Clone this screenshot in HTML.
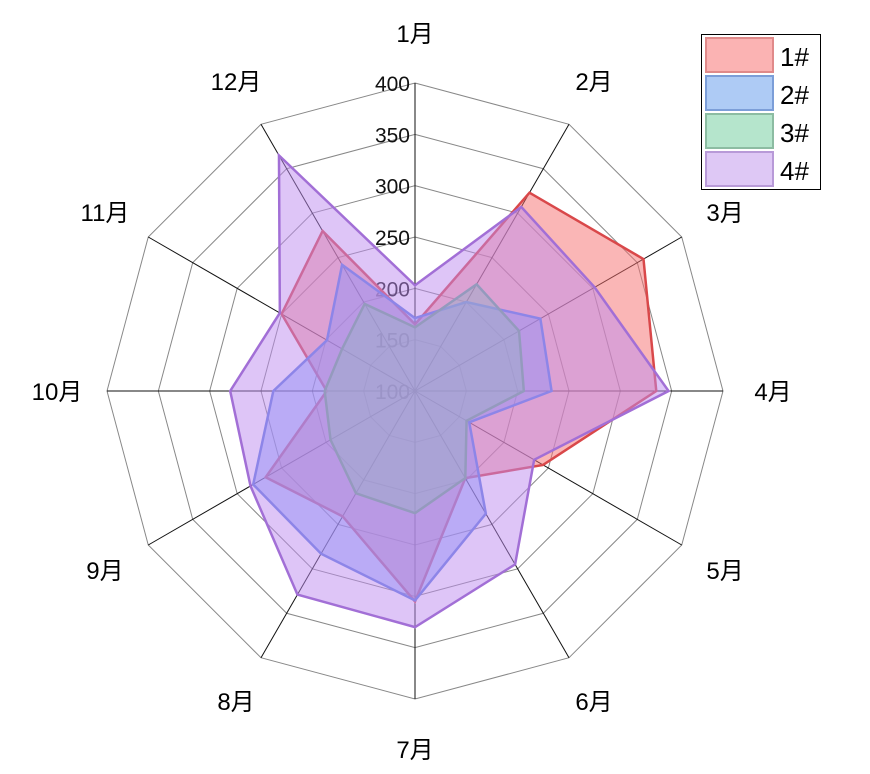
<!DOCTYPE html>
<html><head><meta charset="utf-8">
<style>
html,body{margin:0;padding:0;background:#fff;}
svg{display:block;font-family:"Liberation Sans","Noto Sans CJK SC",sans-serif;}
</style></head>
<body>
<svg id="chart" width="870" height="774" viewBox="0 0 870 774">
<g id="grid"></g>
<g id="ticks"></g>
<g id="series"></g>
<g id="cats"></g>
<g>
<rect x="701.5" y="34.5" width="119" height="155" fill="#fff" stroke="#000" stroke-width="1"/>
<g>
<rect x="706" y="38" width="67" height="34" fill="#fbb3b3" stroke="#e08a8a" stroke-width="2"/>
<text x="780" y="66" font-size="26">1#</text></g>
<g>
<rect x="706" y="76" width="67" height="34" fill="#aecbf5" stroke="#7c9ed8" stroke-width="2"/>
<text x="780" y="104" font-size="26">2#</text></g>
<g>
<rect x="706" y="114" width="67" height="34" fill="#b5e5cc" stroke="#8cbca2" stroke-width="2"/>
<text x="780" y="142" font-size="26">3#</text></g>
<g>
<rect x="706" y="152" width="67" height="34" fill="#dec8f5" stroke="#b89ad8" stroke-width="2"/>
<text x="780" y="180" font-size="26">4#</text></g>
</g>
</svg>
<script>
const categories = ["1月","2月","3月","4月","5月","6月","7月","8月","9月","10月","11月","12月"];
const tickValues = [100,150,200,250,300,350,400];
const tickLabels = ["100","150","200","250","300","350","400"];
const series1 = [165,323,357,335,244,198,305,241,268,186,250,280];
const series2 = [171,200,241,233,161,238,304,283,282,238,199,242];
const series3 = [162,220,217,206,158,198,219,215,195,188,182,198];
const series4 = [203,307,302,347,234,295,330,329,285,280,252,365];
const seriesNames = ["1#","2#","3#","4#"];

const NS = "http://www.w3.org/2000/svg";
const cx = 415, cy = 391, R = 308, vMin = 100, vMax = 400;
function rScale(v){ return (v - vMin) / (vMax - vMin) * R; }
function angle(i){ return i * 2 * Math.PI / categories.length; }
function pt(i, v){ const r = rScale(v), a = angle(i); return [cx + r*Math.sin(a), cy - r*Math.cos(a)]; }
function mk(tag, attrs, parent){ const e = document.createElementNS(NS, tag); for (const k in attrs) e.setAttribute(k, attrs[k]); parent.appendChild(e); return e; }

const grid = document.getElementById("grid");
tickValues.forEach((t, j) => {
  if (t === vMin) return;
  const pts = categories.map((c, i) => pt(i, t).join(",")).join(" ");
  const ring = mk("polygon", {points: pts, fill: "none", stroke: "#888", "stroke-width": 1}, grid);
  
  
});
categories.forEach((c, i) => {
  const p = pt(i, vMax);
  const ax = mk("line", {x1: cx, y1: cy, x2: p[0], y2: p[1], stroke: "#111", "stroke-width": 1}, grid);
  
  
});

const ticks = document.getElementById("ticks");
tickValues.forEach((t, j) => {
  const tx = mk("text", {x: cx - 5, y: cy - rScale(t) + 8, "text-anchor": "end", "font-size": 21, fill: "#111"}, ticks);
  tx.textContent = tickLabels[j];
  
  
});

const styles = [
  {fill: "rgba(245,110,110,0.5)", stroke: "#d9484a"},
  {fill: "rgba(110,150,250,0.5)", stroke: "#5c7fe0"},
  {fill: "rgba(120,205,160,0.5)", stroke: "#6aa88a"},
  {fill: "rgba(190,140,240,0.5)", stroke: "#a26fd6"}
];
const sg = document.getElementById("series");
[series1, series2, series3, series4].forEach((data, s) => {
  const pts = data.map((v, i) => pt(i, v).join(",")).join(" ");
  const poly = mk("polygon", {points: pts, fill: styles[s].fill, stroke: styles[s].stroke, "stroke-width": 2.5, "stroke-linejoin": "miter"}, sg);
  
  
});

const cg = document.getElementById("cats");
categories.forEach((c, i) => {
  const a = angle(i), r = 358;
  const x = cx + r*Math.sin(a), y = cy - r*Math.cos(a);
  const t = mk("text", {x: x, y: y + 9, "text-anchor": "middle", "font-size": 24, fill: "#000"}, cg);
  t.textContent = c;
  
  
});
</script>
</body></html>
